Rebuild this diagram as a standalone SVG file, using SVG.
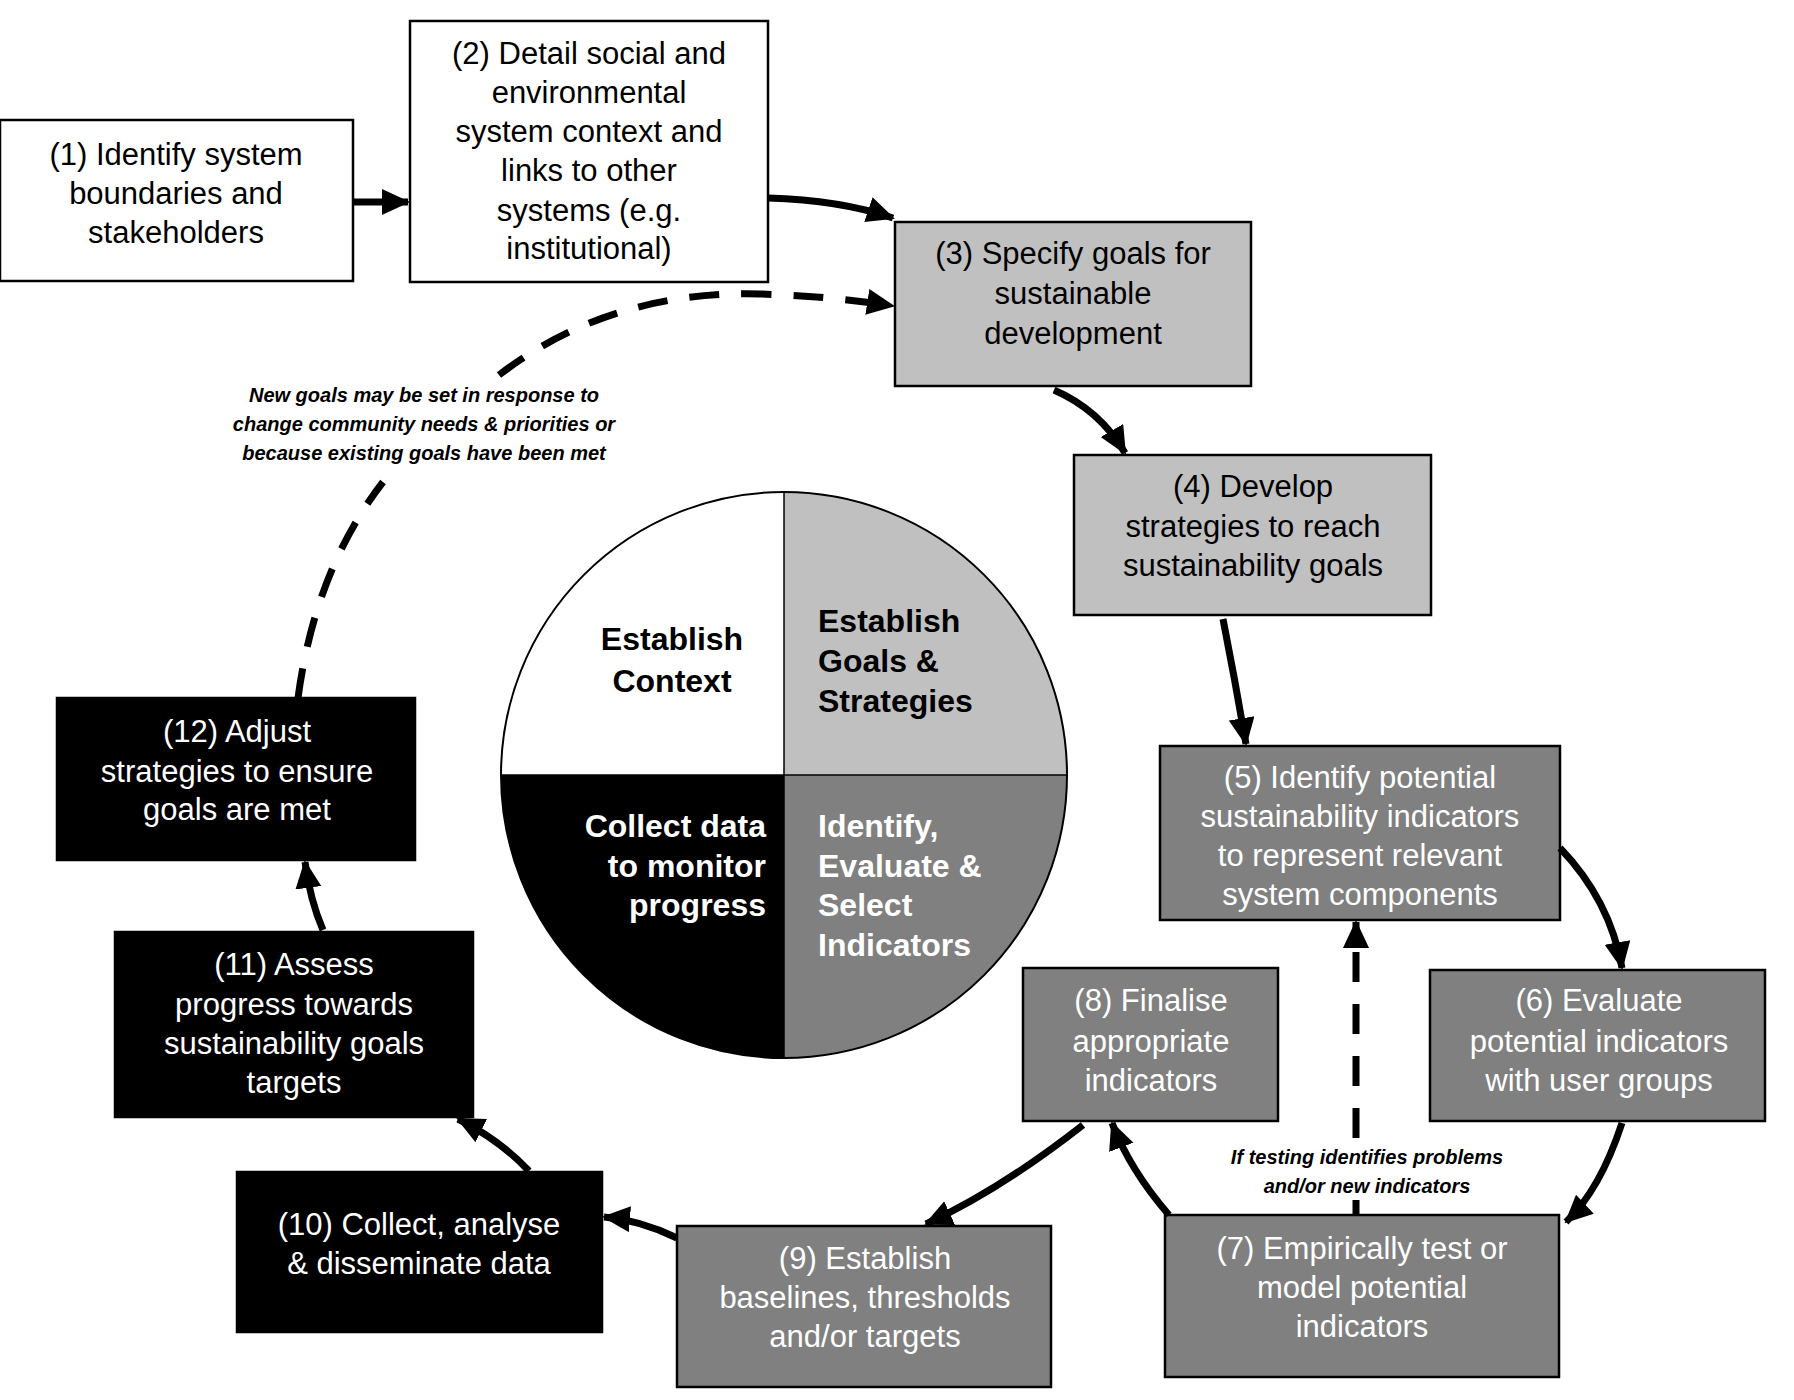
<svg xmlns="http://www.w3.org/2000/svg" width="1794" height="1400" viewBox="0 0 1794 1400">
<style>
.b{stroke:#000;stroke-width:2.5}
.w{fill:#fff}.l{fill:#c0c0c0}.m{fill:#808080}.k{fill:#000}
text{font-family:"Liberation Sans",Arial,sans-serif;font-size:31px;text-anchor:middle}
.tw{fill:#fff}.tk{fill:#000}
.c{font-weight:bold;font-size:32px}
.n{font-weight:bold;font-style:italic;font-size:20px}
.a{fill:none;stroke:#000;stroke-width:7}
.d{stroke-dasharray:30 22}
</style>
<defs>
<marker id="ar" markerUnits="userSpaceOnUse" markerWidth="30" markerHeight="30" refX="26" refY="13" orient="auto">
<path d="M0,0 L28,13 L0,26 z" fill="#000"/>
</marker>
</defs>
<rect width="1794" height="1400" fill="#fff"/>
<g id="wheel">
<path d="M784,775 L784,492 A283,283 0 0 0 501,775 z" fill="#fff"/>
<path d="M784,775 L784,492 A283,283 0 0 1 1067,775 z" fill="#c0c0c0"/>
<path d="M784,775 L501,775 A283,283 0 0 0 784,1058 z" fill="#000"/>
<path d="M784,775 L1067,775 A283,283 0 0 1 784,1058 z" fill="#808080"/>
<circle cx="784" cy="775" r="283" fill="none" stroke="#000" stroke-width="2"/>
<line x1="784" y1="492" x2="784" y2="1058" stroke="#000" stroke-width="1.5"/>
<line x1="501" y1="775" x2="1067" y2="775" stroke="#000" stroke-width="1.5"/>
<text class="c tk" x="672" y="650">Establish</text>
<text class="c tk" x="672" y="692">Context</text>
<text class="c tk" style="text-anchor:start" x="818" y="632">Establish</text>
<text class="c tk" style="text-anchor:start" x="818" y="672">Goals &amp;</text>
<text class="c tk" style="text-anchor:start" x="818" y="712">Strategies</text>
<text class="c tw" style="text-anchor:end" x="766" y="837">Collect data</text>
<text class="c tw" style="text-anchor:end" x="766" y="877">to monitor</text>
<text class="c tw" style="text-anchor:end" x="766" y="916">progress</text>
<text class="c tw" style="text-anchor:start" x="818" y="837">Identify,</text>
<text class="c tw" style="text-anchor:start" x="818" y="877">Evaluate &amp;</text>
<text class="c tw" style="text-anchor:start" x="818" y="916">Select</text>
<text class="c tw" style="text-anchor:start" x="818" y="956">Indicators</text>
</g>
<g id="n1"><rect class="b w" x="0" y="120" width="353" height="161"/>
<text class="tk" x="176" y="165">(1) Identify system</text><text class="tk" x="176" y="204">boundaries and</text><text class="tk" x="176" y="243">stakeholders</text></g>
<g id="n2"><rect class="b w" x="410" y="21" width="358" height="261"/>
<text class="tk" x="589" y="64">(2) Detail social and</text><text class="tk" x="589" y="103">environmental</text><text class="tk" x="589" y="142">system context and</text><text class="tk" x="589" y="181">links to other</text><text class="tk" x="589" y="221">systems (e.g.</text><text class="tk" x="589" y="259">institutional)</text></g>
<g id="n3"><rect class="b l" x="895" y="222" width="356" height="164"/>
<text class="tk" x="1073" y="264">(3) Specify goals for</text><text class="tk" x="1073" y="304">sustainable</text><text class="tk" x="1073" y="344">development</text></g>
<g id="n4"><rect class="b l" x="1074" y="455" width="357" height="160"/>
<text class="tk" x="1253" y="497">(4) Develop</text><text class="tk" x="1253" y="537">strategies to reach</text><text class="tk" x="1253" y="576">sustainability goals</text></g>
<g id="n5"><rect class="b m" x="1160" y="746" width="400" height="174"/>
<text class="tw" x="1360" y="788">(5) Identify potential</text><text class="tw" x="1360" y="827">sustainability indicators</text><text class="tw" x="1360" y="866">to represent relevant</text><text class="tw" x="1360" y="905">system components</text></g>
<g id="n6"><rect class="b m" x="1430" y="970" width="335" height="151"/>
<text class="tw" x="1599" y="1011">(6) Evaluate</text><text class="tw" x="1599" y="1052">potential indicators</text><text class="tw" x="1599" y="1091">with user groups</text></g>
<g id="n7"><rect class="b m" x="1165" y="1215" width="394" height="162"/>
<text class="tw" x="1362" y="1259">(7) Empirically test or</text><text class="tw" x="1362" y="1298">model potential</text><text class="tw" x="1362" y="1337">indicators</text></g>
<g id="n8"><rect class="b m" x="1023" y="968" width="255" height="153"/>
<text class="tw" x="1151" y="1011">(8) Finalise</text><text class="tw" x="1151" y="1052">appropriate</text><text class="tw" x="1151" y="1091">indicators</text></g>
<g id="n9"><rect class="b m" x="677" y="1226" width="374" height="161"/>
<text class="tw" x="865" y="1269">(9) Establish</text><text class="tw" x="865" y="1308">baselines, thresholds</text><text class="tw" x="865" y="1347">and/or targets</text></g>
<g id="n10"><rect class="b k" x="237" y="1172" width="365" height="160"/>
<text class="tw" x="419" y="1235">(10) Collect, analyse</text><text class="tw" x="419" y="1274">&amp; disseminate data</text></g>
<g id="n11"><rect class="b k" x="115" y="932" width="358" height="185"/>
<text class="tw" x="294" y="975">(11) Assess</text><text class="tw" x="294" y="1015">progress towards</text><text class="tw" x="294" y="1054">sustainability goals</text><text class="tw" x="294" y="1093">targets</text></g>
<g id="n12"><rect class="b k" x="57" y="698" width="358" height="162"/>
<text class="tw" x="237" y="742">(12) Adjust</text><text class="tw" x="237" y="782">strategies to ensure</text><text class="tw" x="237" y="820">goals are met</text></g>
<g id="connectors">
<path class="a" d="M353,202 L408,202" marker-end="url(#ar)"/>
<path class="a" d="M768,198 Q840,200 893,218" marker-end="url(#ar)"/>
<path class="a" d="M1054,390 Q1100,410 1125,453" marker-end="url(#ar)"/>
<path class="a" d="M1223,619 Q1235,680 1246,744" marker-end="url(#ar)"/>
<path class="a" d="M1560,848 Q1610,900 1622,968" marker-end="url(#ar)"/>
<path class="a" d="M1622,1123 Q1600,1190 1566,1222" marker-end="url(#ar)"/>
<path class="a" d="M1169,1215 Q1130,1170 1112,1123" marker-end="url(#ar)"/>
<path class="a" d="M1083,1125 Q1000,1190 926,1224" marker-end="url(#ar)"/>
<path class="a" d="M677,1238 Q640,1220 604,1217" marker-end="url(#ar)"/>
<path class="a" d="M529,1171 Q500,1140 458,1119" marker-end="url(#ar)"/>
<path class="a" d="M323,930 Q310,900 305,862" marker-end="url(#ar)"/>
<path class="a d" d="M298,698 Q315,570 383,482"/>
<path class="a d" d="M499,375 Q610,290 760,294 Q830,296 893,306" marker-end="url(#ar)"/>
<path class="a d" d="M1356,1215 L1356,1200"/>
<path class="a d" d="M1356,1138 L1356,922" marker-end="url(#ar)"/>
<text class="n tk" x="424" y="402">New goals may be set in response to</text>
<text class="n tk" x="424" y="431">change community needs &amp; priorities or</text>
<text class="n tk" x="424" y="460">because existing goals have been met</text>
<text class="n tk" x="1367" y="1164">If testing identifies problems</text>
<text class="n tk" x="1367" y="1193">and/or new indicators</text>
</g>
</svg>
